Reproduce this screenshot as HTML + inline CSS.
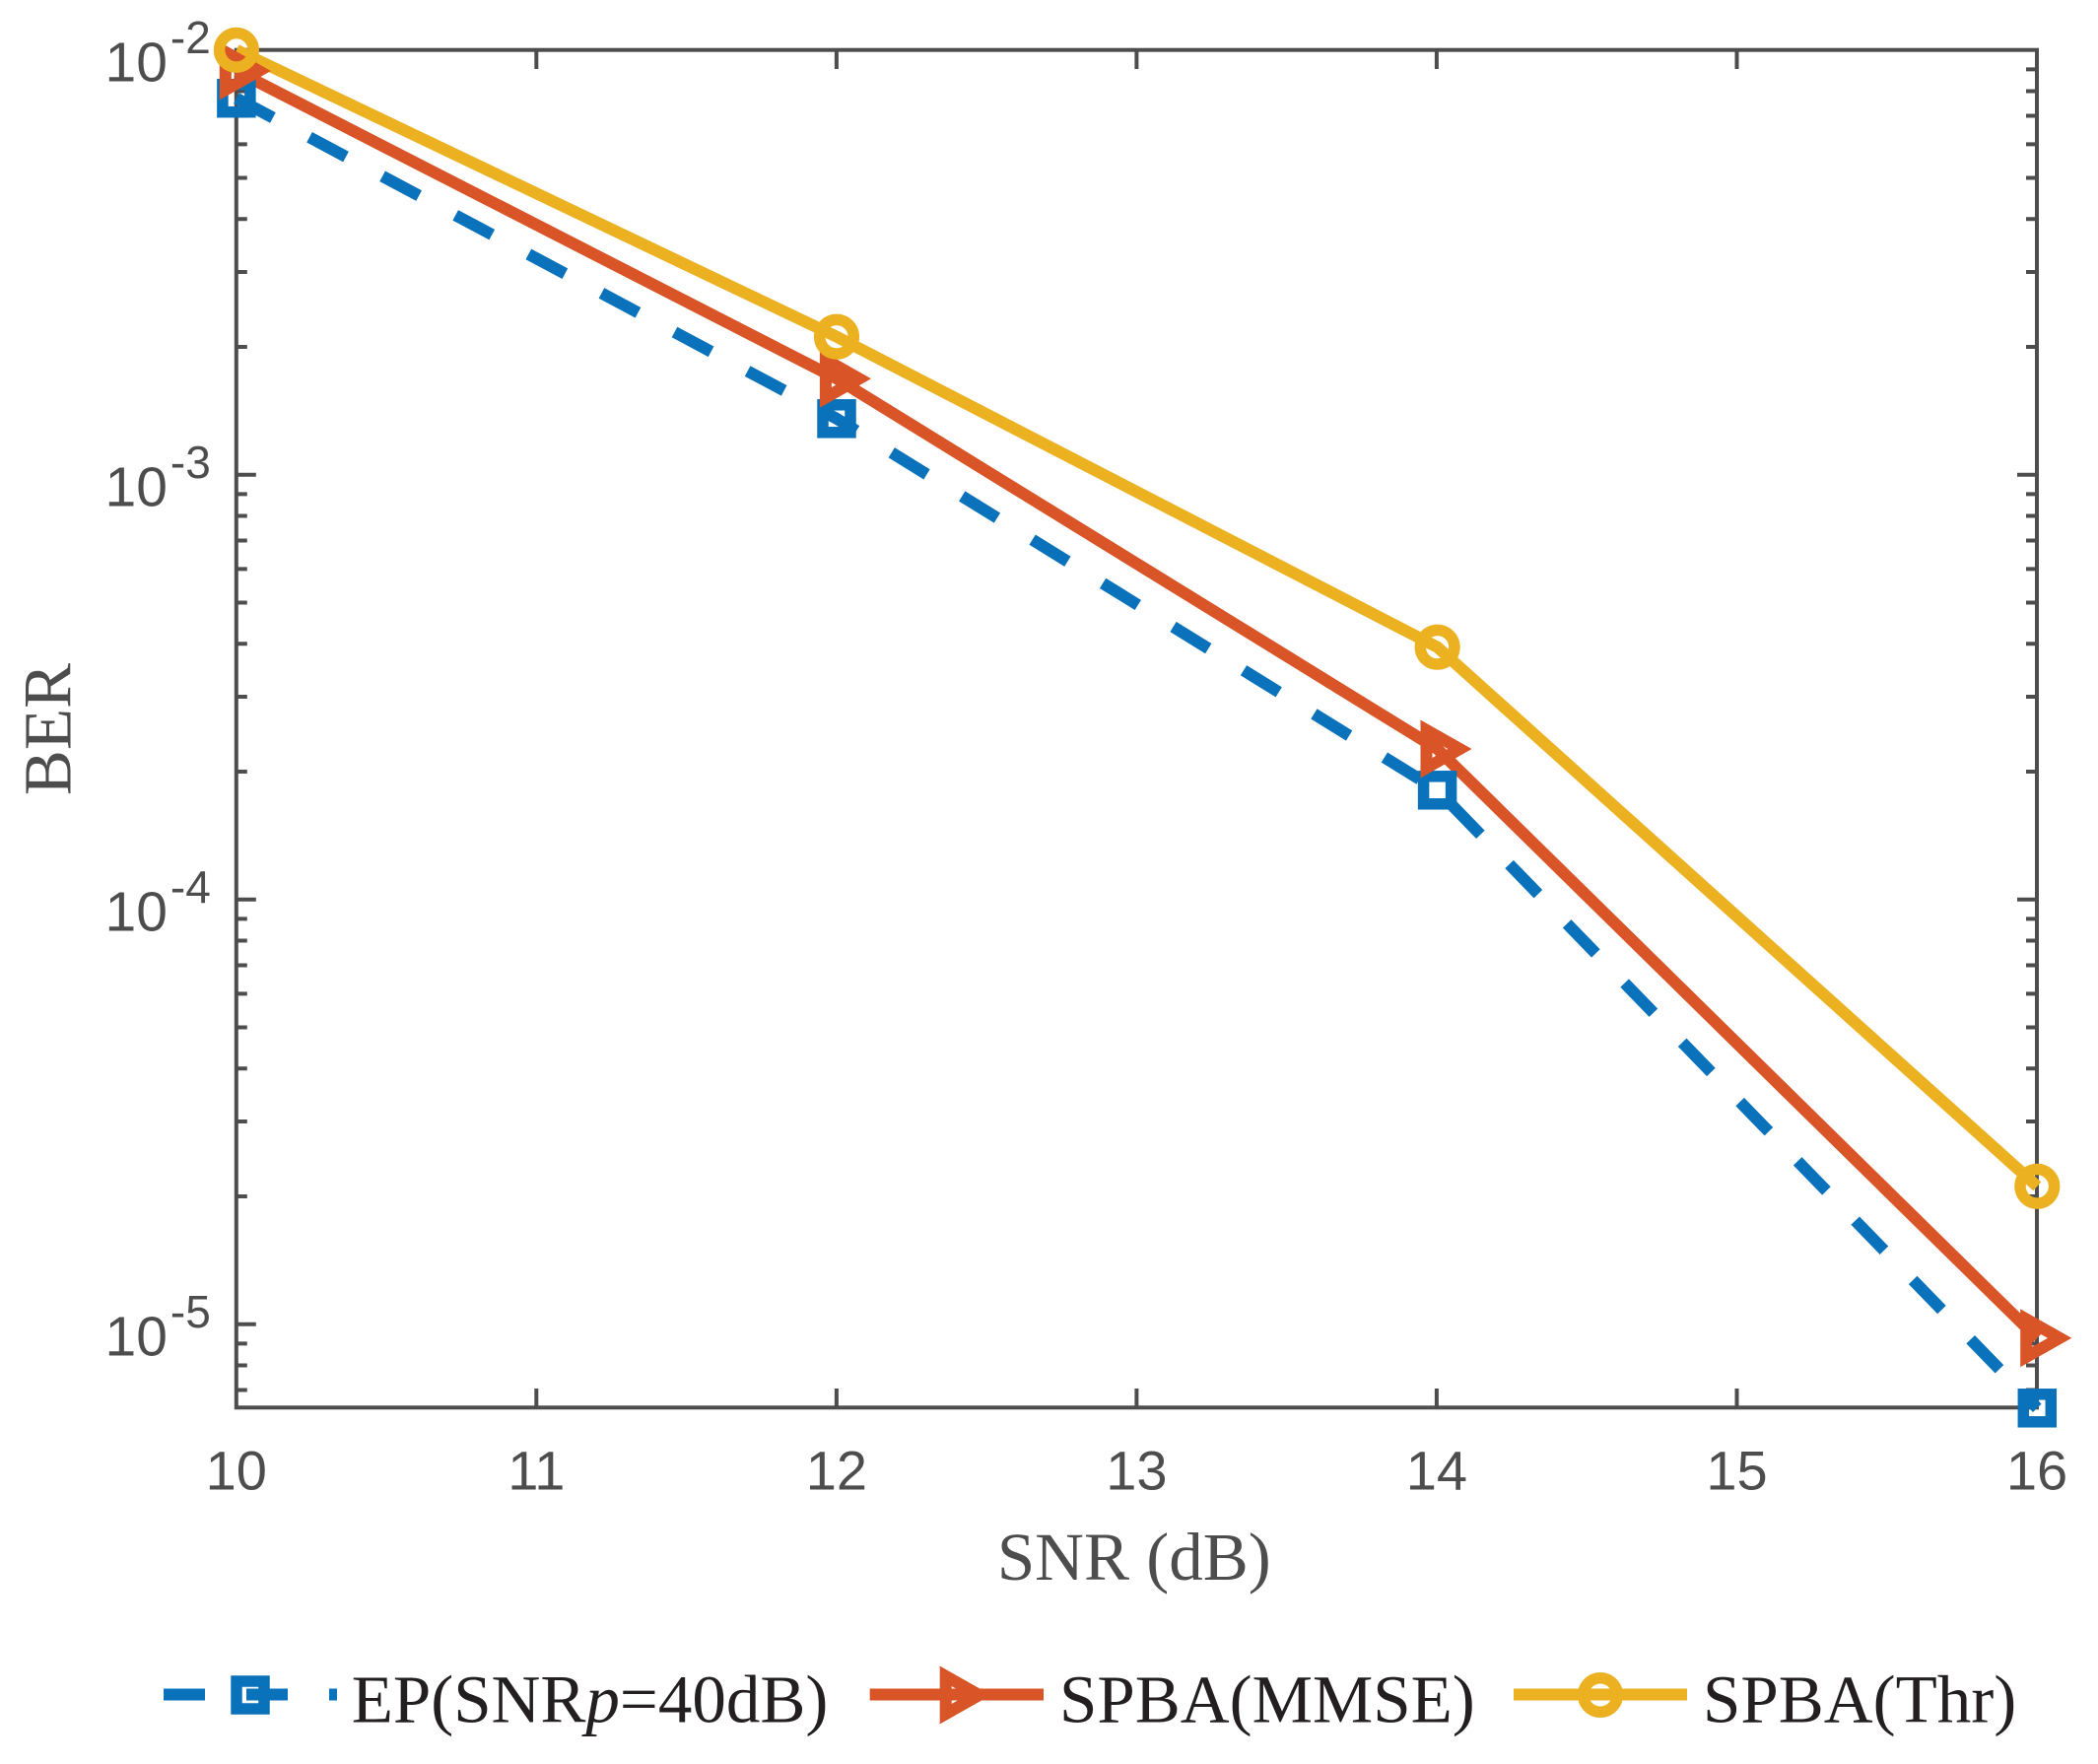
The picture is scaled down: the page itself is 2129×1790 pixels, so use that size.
<!DOCTYPE html>
<html><head><meta charset="utf-8"><style>
html,body{margin:0;padding:0;background:#fff;}
svg{display:block;}
</style></head><body>
<svg width="2129" height="1790" viewBox="0 0 2129 1790" xmlns="http://www.w3.org/2000/svg">
<rect x="0" y="0" width="2129" height="1790" fill="#fff"/>
<!-- axes box -->
<g stroke="#4d4d4d" stroke-width="4" fill="none">
<rect x="239.8" y="50.7" width="1827.2" height="1377.6"/>
<!-- x ticks bottom & top -->
<path d="M544.3 1428.3V1409 M848.9 1428.3V1409 M1153.4 1428.3V1409 M1457.9 1428.3V1409 M1762.5 1428.3V1409
M544.3 50.7V70 M848.9 50.7V70 M1153.4 50.7V70 M1457.9 50.7V70 M1762.5 50.7V70"/>
<!-- y major ticks -->
<path d="M239.8 481.7H259.8 M239.8 912.7H259.8 M239.8 1343.7H259.8
M2067 481.7H2047 M2067 912.7H2047 M2067 1343.7H2047"/>
<!-- y minor ticks left -->
<path d="M239.8 351.96h11 M239.8 276.06h11 M239.8 222.21h11 M239.8 180.44h11 M239.8 146.32h11 M239.8 117.46h11 M239.8 92.47h11 M239.8 70.42h11
M239.8 782.96h11 M239.8 707.06h11 M239.8 653.21h11 M239.8 611.44h11 M239.8 577.32h11 M239.8 548.46h11 M239.8 523.47h11 M239.8 501.42h11
M239.8 1213.96h11 M239.8 1138.06h11 M239.8 1084.21h11 M239.8 1042.44h11 M239.8 1008.32h11 M239.8 979.46h11 M239.8 954.47h11 M239.8 932.42h11
M239.8 1410.46h11 M239.8 1385.47h11 M239.8 1363.42h11"/>
<!-- y minor ticks right -->
<path d="M2067 351.96h-11 M2067 276.06h-11 M2067 222.21h-11 M2067 180.44h-11 M2067 146.32h-11 M2067 117.46h-11 M2067 92.47h-11 M2067 70.42h-11
M2067 782.96h-11 M2067 707.06h-11 M2067 653.21h-11 M2067 611.44h-11 M2067 577.32h-11 M2067 548.46h-11 M2067 523.47h-11 M2067 501.42h-11
M2067 1213.96h-11 M2067 1138.06h-11 M2067 1084.21h-11 M2067 1042.44h-11 M2067 1008.32h-11 M2067 979.46h-11 M2067 954.47h-11 M2067 932.42h-11
M2067 1410.46h-11 M2067 1385.47h-11 M2067 1363.42h-11"/>
</g>

<!-- x tick labels -->
<g font-family="'Liberation Sans', Arial, sans-serif" font-size="56" fill="#4d4d4d" text-anchor="middle">
<text x="239.8" y="1511.7">10</text>
<text x="544.3" y="1511.7">11</text>
<text x="848.9" y="1511.7">12</text>
<text x="1153.4" y="1511.7">13</text>
<text x="1457.9" y="1511.7">14</text>
<text x="1762.5" y="1511.7">15</text>
<text x="2067" y="1511.7">16</text>
</g>

<!-- y tick labels -->
<g font-family="'Liberation Sans', Arial, sans-serif" fill="#4d4d4d">
<text x="106.5" y="82.3" font-size="57">10<tspan dx="3" dy="-28.3" font-size="46">-2</tspan></text>
<text x="106.5" y="513.3" font-size="57">10<tspan dx="3" dy="-28.3" font-size="46">-3</tspan></text>
<text x="106.5" y="944.3" font-size="57">10<tspan dx="3" dy="-28.3" font-size="46">-4</tspan></text>
<text x="106.5" y="1375.3" font-size="57">10<tspan dx="3" dy="-28.3" font-size="46">-5</tspan></text>
</g>

<!-- axis labels -->
<g font-family="'Liberation Serif', 'Times New Roman', serif" font-size="69" fill="#4d4d4d">
<text x="1150.8" y="1603" text-anchor="middle">SNR (dB)</text>
<text transform="translate(71.7,740) rotate(-90)" text-anchor="middle">BER</text>
</g>

<!-- series lines -->
<polyline points="239.9,99.7 849,424.8 1458.6,801.8 2067.3,1428.8" fill="none" stroke="#0a72ba" stroke-width="12" stroke-dasharray="42 42" stroke-linejoin="round"/>
<polyline points="239.9,72 849,384.2 1458.6,760 2067.3,1357.8" fill="none" stroke="#d95427" stroke-width="12" stroke-linejoin="round"/>
<polyline points="239.9,50.8 849,341.7 1458.6,656.7 2067.3,1203.8" fill="none" stroke="#ebb120" stroke-width="12" stroke-linejoin="round"/>

<!-- markers -->
<defs>
<rect id="sq" x="-14" y="-14" width="28" height="28" fill="none" stroke="#0a72ba" stroke-width="11.5"/>
<path id="tri" d="M-11.1 -19.2 L22.8 0 L-11.1 19.2 Z" fill="none" stroke="#d95427" stroke-width="12" stroke-linejoin="miter"/>
<circle id="ci" cx="0" cy="0" r="17.3" fill="none" stroke="#ebb120" stroke-width="11.5"/>
</defs>
<use href="#sq" x="239.9" y="99.7"/>
<use href="#sq" x="849" y="424.8"/>
<use href="#sq" x="1458.6" y="801.8"/>
<use href="#sq" x="2067.3" y="1428.8"/>
<use href="#tri" x="239.9" y="72"/>
<use href="#tri" x="849" y="384.2"/>
<use href="#tri" x="1458.6" y="760"/>
<use href="#tri" x="2067.3" y="1357.8"/>
<use href="#ci" x="239.9" y="50.8"/>
<use href="#ci" x="849" y="341.7"/>
<use href="#ci" x="1458.6" y="656.7"/>
<use href="#ci" x="2067.3" y="1203.8"/>

<!-- legend -->
<line x1="166" y1="1719.5" x2="342" y2="1719.5" stroke="#0a72ba" stroke-width="12" stroke-dasharray="42 42"/>
<use href="#sq" x="254" y="1720"/>
<line x1="882.7" y1="1719.5" x2="1059" y2="1719.5" stroke="#d95427" stroke-width="12"/>
<use href="#tri" x="970.8" y="1720"/>
<line x1="1536" y1="1719.5" x2="1712" y2="1719.5" stroke="#ebb120" stroke-width="12"/>
<use href="#ci" x="1624" y="1720"/>
<g font-family="'Liberation Serif', 'Times New Roman', serif" font-size="69" fill="#231f20">
<text x="356.7" y="1747.5">EP(SNR<tspan font-style="italic">p</tspan>=40dB)</text>
<text x="1075" y="1747.5">SPBA(MMSE)</text>
<text x="1728" y="1747.5">SPBA(Thr)</text>
</g>
</svg>
</body></html>
